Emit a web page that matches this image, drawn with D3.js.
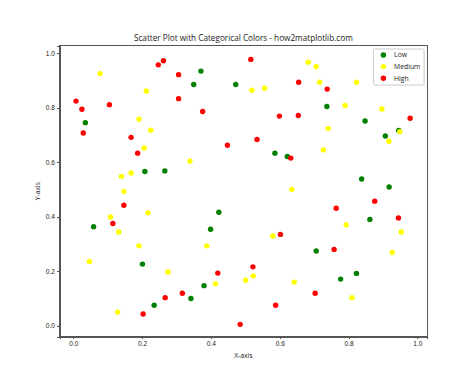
<!DOCTYPE html>
<meta charset="utf-8">
<style>

body {
  margin: 0;
  background: #fff;
  font-family: "Open Sans", sans-serif;
}

.axis path,
.axis line {
  fill: none;
  stroke: #555;
  shape-rendering: crispEdges;
}

.axis text {
  fill: #222;
  font-size: 6.6px;
}

</style>
<body>
<script src="https://d3js.org/d3.v7.min.js"></script>
<script>

var categories = ["Low", "Medium", "High"];
var colors = ["green", "yellow", "red"];

var lowX = [0.371, 0.350, 0.472, 0.035, 0.208, 0.266, 0.737, 0.848, 0.946, 0.907, 0.586, 0.622, 0.838,
            0.918, 0.059, 0.423, 0.399, 0.201, 0.380, 0.342, 0.235, 0.862, 0.706, 0.777, 0.823];
var lowY = [0.934, 0.885, 0.885, 0.745, 0.566, 0.568, 0.804, 0.751, 0.716, 0.696, 0.633, 0.621, 0.538,
            0.509, 0.363, 0.416, 0.354, 0.226, 0.147, 0.100, 0.075, 0.390, 0.274, 0.171, 0.192];

var mediumX = [0.078, 0.212, 0.191, 0.225, 0.206, 0.339, 0.140, 0.168, 0.683, 0.706, 0.519, 0.556, 0.716,
               0.823, 0.790, 0.897, 0.741, 0.949, 0.917, 0.727, 0.635, 0.147, 0.108, 0.132, 0.217, 0.191,
               0.388, 0.047, 0.275, 0.413, 0.129, 0.793, 0.953, 0.580, 0.927, 0.501, 0.523, 0.642, 0.810];
var mediumY = [0.925, 0.861, 0.758, 0.717, 0.652, 0.604, 0.548, 0.560, 0.967, 0.951, 0.864, 0.871, 0.893,
               0.893, 0.808, 0.795, 0.724, 0.712, 0.677, 0.645, 0.500, 0.493, 0.399, 0.344, 0.414, 0.293,
               0.293, 0.236, 0.197, 0.154, 0.050, 0.370, 0.344, 0.329, 0.269, 0.167, 0.183, 0.160, 0.103];

var highX = [0.247, 0.262, 0.306, 0.008, 0.025, 0.105, 0.306, 0.376, 0.029, 0.168, 0.448, 0.187, 0.516,
             0.655, 0.738, 0.599, 0.654, 0.979, 0.534, 0.632, 0.147, 0.115, 0.420, 0.267, 0.317, 0.203,
             0.485, 0.764, 0.876, 0.945, 0.602, 0.758, 0.522, 0.703, 0.588];
var highY = [0.957, 0.972, 0.921, 0.824, 0.794, 0.811, 0.833, 0.786, 0.707, 0.691, 0.662, 0.633, 0.977,
             0.893, 0.868, 0.769, 0.771, 0.761, 0.683, 0.615, 0.442, 0.375, 0.193, 0.103, 0.119, 0.043,
             0.005, 0.431, 0.457, 0.395, 0.335, 0.280, 0.216, 0.119, 0.075];

var ticks = [0.0, 0.2, 0.4, 0.6, 0.8, 1.0];

var series = [
  {name: categories[0], color: colors[0], xs: lowX, ys: lowY},
  {name: categories[1], color: colors[1], xs: mediumX, ys: mediumY},
  {name: categories[2], color: colors[2], xs: highX, ys: highY}
];

var margin = {top: 45.5, right: 47, bottom: 42.3, left: 59.7},
    width = 474 - margin.left - margin.right,
    height = 379 - margin.top - margin.bottom;

var x = d3.scaleLinear()
    .range([0, width])
    .domain([-0.0395, 1.028]);

var y = d3.scaleLinear()
    .range([height, 0])
    .domain([-0.0403, 1.028]);

var svg = d3.select("body").append("svg")
    .attr("width", 474)
    .attr("height", 379)
  .append("g")
    .attr("transform", "translate(" + margin.left + "," + margin.top + ")");

var xAxis = d3.axisBottom(x).tickValues(ticks).tickFormat(d3.format(".1f")).tickSize(2.3).tickPadding(2.5);
var yAxis = d3.axisLeft(y).tickValues(ticks).tickFormat(d3.format(".1f")).tickSize(2.3).tickPadding(2.5);

svg.append("g")
    .attr("class", "x axis")
    .attr("transform", "translate(0," + height + ")")
    .call(xAxis);

svg.append("g")
    .attr("class", "y axis")
    .call(yAxis);

// top and right spines
svg.append("rect")
    .attr("width", width)
    .attr("height", height)
    .style("fill", "none")
    .style("stroke", "#555")
    .style("shape-rendering", "crispEdges");

series.forEach(function(s) {
  svg.append("g").selectAll("circle")
      .data(d3.range(s.xs.length))
    .enter().append("circle")
      .attr("r", 2.7)
      .attr("cx", function(i) { return x(s.xs[i]); })
      .attr("cy", function(i) { return y(s.ys[i]); })
      .style("fill", s.color);
});

svg.append("text")
    .attr("x", width / 2)
    .attr("y", -4.5)
    .style("text-anchor", "middle")
    .style("font-size", "8.2px")
    .style("fill", "#222")
    .text("Scatter Plot with Categorical Colors - how2matplotlib.com");

svg.append("text")
    .attr("x", width / 2)
    .attr("y", height + 21.5)
    .style("text-anchor", "middle")
    .style("font-size", "6.8px")
    .style("fill", "#222")
    .text("X-axis");

svg.append("text")
    .attr("transform", "translate(" + (-20) + "," + (height / 2) + ") rotate(-90)")
    .style("text-anchor", "middle")
    .style("font-size", "6.8px")
    .style("fill", "#222")
    .text("Y-axis");

// legend
var legend = svg.append("g")
    .attr("transform", "translate(" + (width - 53.6) + ",3.5)");

legend.append("rect")
    .attr("width", 50.7)
    .attr("height", 36)
    .attr("rx", 1.5)
    .style("fill", "#fff")
    .style("fill-opacity", 0.8)
    .style("stroke", "#ccc");

var item = legend.selectAll(".legend")
    .data(series)
  .enter().append("g")
    .attr("class", "legend")
    .attr("transform", function(d, i) { return "translate(0," + (6 + i * 11.6) + ")"; });

item.append("circle")
    .attr("cx", 10)
    .attr("r", 2.7)
    .style("fill", function(d) { return d.color; });

item.append("text")
    .attr("x", 20.7)
    .attr("dy", ".35em")
    .style("font-size", "6.8px")
    .style("fill", "#222")
    .text(function(d) { return d.name; });

</script>
